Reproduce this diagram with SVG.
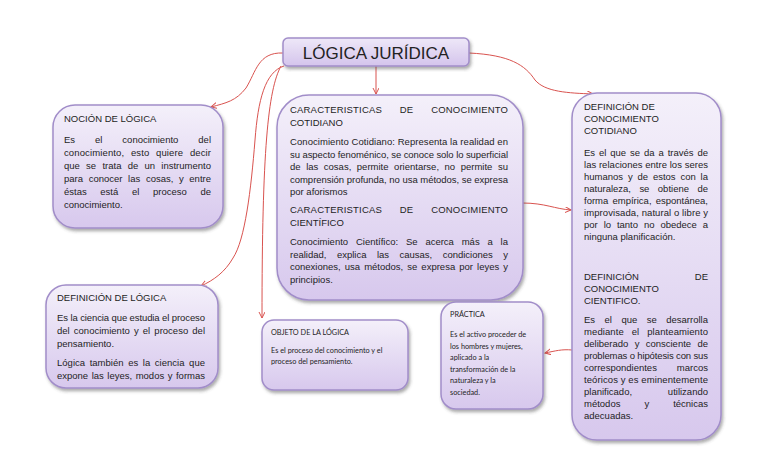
<svg xmlns="http://www.w3.org/2000/svg" width="768" height="466" viewBox="0 0 768 466">
<defs>
<linearGradient id="g" x1="0" y1="0" x2="0" y2="1">
<stop offset="0" stop-color="#f4f0fa"/>
<stop offset="1" stop-color="#d7c8ed"/>
</linearGradient>
<linearGradient id="gt" x1="0" y1="0" x2="0" y2="1">
<stop offset="0" stop-color="#eee8f8"/>
<stop offset="1" stop-color="#d4c4ec"/>
</linearGradient>
<filter id="sh" x="-10%" y="-10%" width="130%" height="130%">
<feDropShadow dx="1.5" dy="2.5" stdDeviation="1.8" flood-color="#444" flood-opacity="0.45"/>
</filter>
<marker id="ar" markerWidth="8" markerHeight="8" refX="6" refY="3" orient="auto" markerUnits="userSpaceOnUse">
<path d="M0,0 L6,3 L0,6" fill="none" stroke="#d9534f" stroke-width="1"/>
</marker>
<clipPath id="cdef"><rect x="46" y="285" width="172" height="103" rx="20"/></clipPath>
</defs>
<style>
.box{fill:url(#g);stroke:#a18dc9;stroke-width:1.5;filter:url(#sh)}
.t{font-family:"Liberation Sans",Arial,sans-serif;font-size:9.5px;fill:#1e1e1e}
.s{font-family:Lato,"Open Sans",sans-serif;font-size:7.3px;fill:#1e1e1e}
.c{fill:none;stroke:#d9534f;stroke-width:1;marker-end:url(#ar)}
.e{text-anchor:end}
</style>
<rect width="768" height="466" fill="#ffffff"/>

<g id="connectors">
<path class="c" d="M283,53 C258,52 256,72 246,88 C236,101 226,103 211,107"/>
<path class="c" d="M284,66 C265,72 258,100 255,140 C251,190 245,240 233,258 C225,272 214,280 201,286"/>
<path class="c" d="M281,66 C268,90 262,150 262,318"/>
<path class="c" d="M376,66 L376,94"/>
<path class="c" d="M469,53 C510,55 525,65 535,80 C545,92 568,93 593,94"/>
<path class="c" d="M522,203 C545,203 555,209 571,210"/>
<path class="c" d="M572,350 C562,349 555,351 545,353"/>
</g>

<g id="title">
<rect x="283" y="38" width="186" height="28" rx="5" fill="url(#gt)" stroke="#a18dc9" stroke-width="1.5" filter="url(#sh)"/>
<text x="376" y="59" text-anchor="middle" font-family="Liberation Sans, Arial, sans-serif" font-size="17" fill="#222">LÓGICA JURÍDICA</text>
</g>

<g id="nocion">
<rect class="box" x="53" y="105" width="170" height="123" rx="22"/>
<text class="t" x="64" y="122">NOCIÓN DE LÓGICA</text>
<text class="t" x="64" y="143" word-spacing="17.3" textLength="147" lengthAdjust="spacing">Es el conocimiento del</text>
<text class="t" x="64" y="156" word-spacing="3.9" textLength="147" lengthAdjust="spacing">conocimiento, esto quiere decir</text>
<text class="t" x="64" y="169" word-spacing="3.6" textLength="147" lengthAdjust="spacing">que se trata de un instrumento</text>
<text class="t" x="64" y="182" word-spacing="3" textLength="147" lengthAdjust="spacing">para conocer las cosas, y entre</text>
<text class="t" x="64" y="195" word-spacing="11" textLength="147" lengthAdjust="spacing">éstas está el proceso de</text>
<text class="t" x="64" y="208">conocimiento.</text>
</g>

<g id="definicion-logica">
<rect class="box" x="46" y="285" width="172" height="103" rx="20"/>
<g clip-path="url(#cdef)">
<text class="t" x="57" y="301">DEFINICIÓN DE LÓGICA</text>
<text class="t" x="57" y="321" textLength="148" lengthAdjust="spacing">Es la ciencia que estudia el proceso</text>
<text class="t" x="57" y="334" word-spacing="1.5" textLength="148" lengthAdjust="spacing">del conocimiento y el proceso del</text>
<text class="t" x="57" y="347">pensamiento.</text>
<text class="t" x="57" y="366" word-spacing="2" textLength="148" lengthAdjust="spacing">Lógica también es la ciencia que</text>
<text class="t" x="57" y="379" word-spacing="0.9" textLength="148" lengthAdjust="spacing">expone las leyes, modos y formas</text>
</g>
</g>

<g id="caracteristicas">
<rect class="box" x="277" y="95" width="246" height="205" rx="32"/>
<text class="t" x="290" y="113" word-spacing="15" textLength="218" lengthAdjust="spacing">CARACTERISTICAS DE CONOCIMIENTO</text>
<text class="t" x="290" y="125.5">COTIDIANO</text>
<text class="t" x="290" y="145" textLength="218" lengthAdjust="spacing">Conocimiento Cotidiano: Representa la realidad en</text>
<text class="t" x="290" y="157.5" textLength="218" lengthAdjust="spacing">su aspecto fenoménico, se conoce solo lo superficial</text>
<text class="t" x="290" y="170" word-spacing="2.9" textLength="218" lengthAdjust="spacing">de las cosas, permite orientarse, no permite su</text>
<text class="t" x="290" y="182.5" textLength="218" lengthAdjust="spacing">comprensión profunda, no usa métodos, se expresa</text>
<text class="t" x="290" y="195">por aforismos</text>
<text class="t" x="290" y="213" word-spacing="15" textLength="218" lengthAdjust="spacing">CARACTERISTICAS DE CONOCIMIENTO</text>
<text class="t" x="290" y="225.5">CIENTÍFICO</text>
<text class="t" x="290" y="245" word-spacing="5.2" textLength="218" lengthAdjust="spacing">Conocimiento Científico: Se acerca más a la</text>
<text class="t" x="290" y="257.5" word-spacing="7.8" textLength="218" lengthAdjust="spacing">realidad, explica las causas, condiciones y</text>
<text class="t" x="290" y="270" word-spacing="1.4" textLength="218" lengthAdjust="spacing">conexiones, usa métodos, se expresa por leyes y</text>
<text class="t" x="290" y="282.5">principios.</text>
</g>

<g id="definicion-conocimiento">
<rect class="box" x="572" y="93" width="149" height="347" rx="25"/>
<text class="t" x="584" y="110">DEFINICIÓN DE</text>
<text class="t" x="584" y="122">CONOCIMIENTO</text>
<text class="t" x="584" y="134">COTIDIANO</text>
<text class="t" x="584" y="156" word-spacing="1.3" textLength="124" lengthAdjust="spacing">Es el que se da a través de</text>
<text class="t" x="584" y="168" textLength="124" lengthAdjust="spacing">las relaciones entre los seres</text>
<text class="t" x="584" y="180" word-spacing="2.2" textLength="124" lengthAdjust="spacing">humanos y de estos con la</text>
<text class="t" x="584" y="192" word-spacing="5.8" textLength="124" lengthAdjust="spacing">naturaleza, se obtiene de</text>
<text class="t" x="584" y="204" word-spacing="1.5" textLength="124" lengthAdjust="spacing">forma empírica, espontánea,</text>
<text class="t" x="584" y="216" textLength="124" lengthAdjust="spacing">improvisada, natural o libre y</text>
<text class="t" x="584" y="228" word-spacing="3.3" textLength="124" lengthAdjust="spacing">por lo tanto no obedece a</text>
<text class="t" x="584" y="240">ninguna planificación.</text>
<text class="t" x="584" y="280">DEFINICIÓN</text>
<text class="t e" x="708" y="280">DE</text>
<text class="t" x="584" y="292">CONOCIMIENTO</text>
<text class="t" x="584" y="304">CIENTIFICO.</text>
<text class="t" x="584" y="323" word-spacing="6.8" textLength="124" lengthAdjust="spacing">Es el que se desarrolla</text>
<text class="t" x="584" y="335" word-spacing="5.2" textLength="124" lengthAdjust="spacing">mediante el planteamiento</text>
<text class="t" x="584" y="347" word-spacing="3.7" textLength="124" lengthAdjust="spacing">deliberado y consciente de</text>
<text class="t" x="584" y="359" textLength="124" lengthAdjust="spacing">problemas o hipótesis con sus</text>
<text class="t" x="584" y="371">correspondientes</text>
<text class="t e" x="708" y="371">marcos</text>
<text class="t" x="584" y="383" textLength="124" lengthAdjust="spacing">teóricos y es eminentemente</text>
<text class="t" x="584" y="395">planificado,</text>
<text class="t e" x="708" y="395">utilizando</text>
<text class="t" x="584" y="407">métodos</text>
<text class="t" x="644.4" y="407">y</text>
<text class="t e" x="708" y="407">técnicas</text>
<text class="t" x="584" y="419">adecuadas.</text>
</g>

<g id="objeto">
<rect class="box" x="262" y="320" width="146" height="70" rx="12"/>
<text class="s" x="271" y="335">OBJETO DE LA LÓGICA</text>
<text class="s" x="271" y="353">Es el proceso del conocimiento y el</text>
<text class="s" x="271" y="364">proceso del pensamiento.</text>
</g>

<g id="practica">
<rect class="box" x="441" y="302" width="102" height="107" rx="15"/>
<text class="s" x="450" y="317">PRÁCTICA</text>
<text class="s" x="450" y="337">Es el activo proceder de</text>
<text class="s" x="450" y="348.5">los hombres y mujeres,</text>
<text class="s" x="450" y="360">aplicado a la</text>
<text class="s" x="450" y="371.5">transformación de la</text>
<text class="s" x="450" y="383">naturaleza y la</text>
<text class="s" x="450" y="394.5">sociedad.</text>
</g>
</svg>
